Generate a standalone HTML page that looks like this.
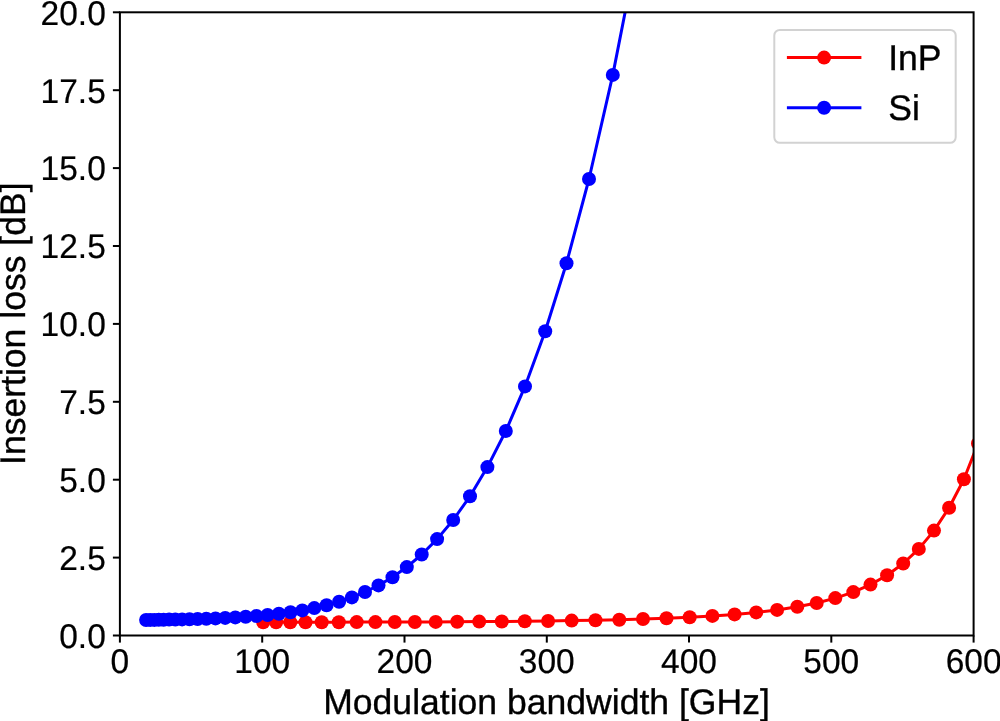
<!DOCTYPE html>
<html><head><meta charset="utf-8"><title>Insertion loss vs modulation bandwidth</title>
<style>html,body{margin:0;padding:0;background:#fff}svg{display:block}text{text-rendering:geometricPrecision;font-family:"Liberation Sans",Arial,Helvetica,sans-serif;fill:#000;stroke:#000;stroke-width:0.35px}.tk text{stroke-width:0.2px}</style>
</head><body>
<svg width="1000" height="721" viewBox="0 0 1000 721">
<rect width="1000" height="721" fill="#fff"/>
<defs><clipPath id="ax"><rect x="119.9" y="12.3" width="853.7" height="623.2"/></clipPath></defs>
<g clip-path="url(#ax)">
<polyline points="263.2,622.3 276.1,622.3 290.3,622.2 305.5,622.2 321.7,622.2 338.8,622.2 356.7,622.1 375.4,622.1 394.8,622.0 414.9,622.0 435.7,621.9 457.2,621.8 479.2,621.6 501.8,621.5 524.8,621.2 548.1,621.0 571.7,620.6 595.5,620.2 619.3,619.7 643.0,619.0 666.5,618.2 689.7,617.2 712.4,615.9 734.6,614.4 756.2,612.4 777.1,609.9 797.3,606.8 816.7,603.0 835.3,598.1 853.3,592.1 870.5,584.6 887.1,575.2 903.2,563.5 918.8,548.9 934.0,530.6 949.1,507.7 963.9,479.2 978.0,443.5 992.4,399.0" fill="none" stroke="#f00" stroke-width="3" stroke-linejoin="round"/>
<g fill="#f00"><circle cx="263.2" cy="622.3" r="7"/><circle cx="276.1" cy="622.3" r="7"/><circle cx="290.3" cy="622.2" r="7"/><circle cx="305.5" cy="622.2" r="7"/><circle cx="321.7" cy="622.2" r="7"/><circle cx="338.8" cy="622.2" r="7"/><circle cx="356.7" cy="622.1" r="7"/><circle cx="375.4" cy="622.1" r="7"/><circle cx="394.8" cy="622.0" r="7"/><circle cx="414.9" cy="622.0" r="7"/><circle cx="435.7" cy="621.9" r="7"/><circle cx="457.2" cy="621.8" r="7"/><circle cx="479.2" cy="621.6" r="7"/><circle cx="501.8" cy="621.5" r="7"/><circle cx="524.8" cy="621.2" r="7"/><circle cx="548.1" cy="621.0" r="7"/><circle cx="571.7" cy="620.6" r="7"/><circle cx="595.5" cy="620.2" r="7"/><circle cx="619.3" cy="619.7" r="7"/><circle cx="643.0" cy="619.0" r="7"/><circle cx="666.5" cy="618.2" r="7"/><circle cx="689.7" cy="617.2" r="7"/><circle cx="712.4" cy="615.9" r="7"/><circle cx="734.6" cy="614.4" r="7"/><circle cx="756.2" cy="612.4" r="7"/><circle cx="777.1" cy="609.9" r="7"/><circle cx="797.3" cy="606.8" r="7"/><circle cx="816.7" cy="603.0" r="7"/><circle cx="835.3" cy="598.1" r="7"/><circle cx="853.3" cy="592.1" r="7"/><circle cx="870.5" cy="584.6" r="7"/><circle cx="887.1" cy="575.2" r="7"/><circle cx="903.2" cy="563.5" r="7"/><circle cx="918.8" cy="548.9" r="7"/><circle cx="934.0" cy="530.6" r="7"/><circle cx="949.1" cy="507.7" r="7"/><circle cx="963.9" cy="479.2" r="7"/><circle cx="978.0" cy="443.5" r="7"/><circle cx="992.4" cy="399.0" r="7"/></g>
<polyline points="146.1,620.0 150.2,619.9 154.3,619.9 158.7,619.8 163.6,619.7 169.1,619.6 175.3,619.5 182.1,619.4 189.5,619.2 197.6,619.0 206.3,618.7 215.5,618.4 225.2,617.9 235.3,617.4 245.7,616.8 256.5,616.0 267.6,615.0 278.9,613.8 290.5,612.3 302.3,610.4 314.3,608.1 326.6,605.2 339.1,601.7 351.9,597.4 365.0,592.0 378.5,585.4 392.5,577.2 406.8,567.1 421.7,554.5 437.1,539.1 453.2,520.0 470.0,496.3 487.4,467.1 505.8,431.0 525.0,386.4 545.2,331.3 566.5,263.2 589.0,179.0 612.8,74.9 638.1,-53.7" fill="none" stroke="#00f" stroke-width="3" stroke-linejoin="round"/>
<g fill="#00f"><circle cx="146.1" cy="620.0" r="7"/><circle cx="150.2" cy="619.9" r="7"/><circle cx="154.3" cy="619.9" r="7"/><circle cx="158.7" cy="619.8" r="7"/><circle cx="163.6" cy="619.7" r="7"/><circle cx="169.1" cy="619.6" r="7"/><circle cx="175.3" cy="619.5" r="7"/><circle cx="182.1" cy="619.4" r="7"/><circle cx="189.5" cy="619.2" r="7"/><circle cx="197.6" cy="619.0" r="7"/><circle cx="206.3" cy="618.7" r="7"/><circle cx="215.5" cy="618.4" r="7"/><circle cx="225.2" cy="617.9" r="7"/><circle cx="235.3" cy="617.4" r="7"/><circle cx="245.7" cy="616.8" r="7"/><circle cx="256.5" cy="616.0" r="7"/><circle cx="267.6" cy="615.0" r="7"/><circle cx="278.9" cy="613.8" r="7"/><circle cx="290.5" cy="612.3" r="7"/><circle cx="302.3" cy="610.4" r="7"/><circle cx="314.3" cy="608.1" r="7"/><circle cx="326.6" cy="605.2" r="7"/><circle cx="339.1" cy="601.7" r="7"/><circle cx="351.9" cy="597.4" r="7"/><circle cx="365.0" cy="592.0" r="7"/><circle cx="378.5" cy="585.4" r="7"/><circle cx="392.5" cy="577.2" r="7"/><circle cx="406.8" cy="567.1" r="7"/><circle cx="421.7" cy="554.5" r="7"/><circle cx="437.1" cy="539.1" r="7"/><circle cx="453.2" cy="520.0" r="7"/><circle cx="470.0" cy="496.3" r="7"/><circle cx="487.4" cy="467.1" r="7"/><circle cx="505.8" cy="431.0" r="7"/><circle cx="525.0" cy="386.4" r="7"/><circle cx="545.2" cy="331.3" r="7"/><circle cx="566.5" cy="263.2" r="7"/><circle cx="589.0" cy="179.0" r="7"/><circle cx="612.8" cy="74.9" r="7"/></g>
</g>

<g stroke="#000" stroke-width="2" fill="none">
<line x1="119.9" y1="635.5" x2="119.9" y2="642.6"/>
<line x1="262.2" y1="635.5" x2="262.2" y2="642.6"/>
<line x1="404.5" y1="635.5" x2="404.5" y2="642.6"/>
<line x1="546.8" y1="635.5" x2="546.8" y2="642.6"/>
<line x1="689.0" y1="635.5" x2="689.0" y2="642.6"/>
<line x1="831.3" y1="635.5" x2="831.3" y2="642.6"/>
<line x1="973.6" y1="635.5" x2="973.6" y2="642.6"/>
<line x1="119.9" y1="635.5" x2="112.9" y2="635.5"/>
<line x1="119.9" y1="557.6" x2="112.9" y2="557.6"/>
<line x1="119.9" y1="479.7" x2="112.9" y2="479.7"/>
<line x1="119.9" y1="401.8" x2="112.9" y2="401.8"/>
<line x1="119.9" y1="323.9" x2="112.9" y2="323.9"/>
<line x1="119.9" y1="246.0" x2="112.9" y2="246.0"/>
<line x1="119.9" y1="168.1" x2="112.9" y2="168.1"/>
<line x1="119.9" y1="90.2" x2="112.9" y2="90.2"/>
<line x1="119.9" y1="12.3" x2="112.9" y2="12.3"/>
<rect x="119.9" y="12.3" width="853.7" height="623.2"/>
</g>
<g font-size="33.5" text-anchor="middle" class="tk">
<text transform="translate(119.9 673.4) scale(1 1.025)">0</text>
<text transform="translate(262.2 673.4) scale(1 1.025)">100</text>
<text transform="translate(404.5 673.4) scale(1 1.025)">200</text>
<text transform="translate(546.8 673.4) scale(1 1.025)">300</text>
<text transform="translate(689.0 673.4) scale(1 1.025)">400</text>
<text transform="translate(831.3 673.4) scale(1 1.025)">500</text>
<text transform="translate(973.6 673.4) scale(1 1.025)">600</text>
</g>
<g font-size="33.5" text-anchor="end" class="tk">
<text transform="translate(105.8 647.8) scale(1 1.025)">0.0</text>
<text transform="translate(105.8 569.9) scale(1 1.025)">2.5</text>
<text transform="translate(105.8 492.0) scale(1 1.025)">5.0</text>
<text transform="translate(105.8 414.1) scale(1 1.025)">7.5</text>
<text transform="translate(105.8 336.2) scale(1 1.025)">10.0</text>
<text transform="translate(105.8 258.3) scale(1 1.025)">12.5</text>
<text transform="translate(105.8 180.4) scale(1 1.025)">15.0</text>
<text transform="translate(105.8 102.5) scale(1 1.025)">17.5</text>
<text transform="translate(105.8 24.6) scale(1 1.025)">20.0</text>
</g>
<text font-size="35.55" text-anchor="middle" x="546.5" y="713.8">Modulation bandwidth [GHz]</text>
<text font-size="35.55" text-anchor="middle" transform="translate(25.3 323.7) rotate(-90)">Insertion loss [dB]</text>
<rect x="774.3" y="29.9" width="181.4" height="112.9" rx="5.5" ry="5.5" fill="#fff" fill-opacity="0.8" stroke="#d2d2d2" stroke-width="2"/>
<line x1="786.9" y1="57.6" x2="861.4" y2="57.6" stroke="#f00" stroke-width="3"/><circle cx="824.1" cy="57.6" r="7" fill="#f00"/>
<line x1="786.9" y1="107.8" x2="861.4" y2="107.8" stroke="#00f" stroke-width="3"/><circle cx="824.1" cy="107.8" r="7" fill="#00f"/>
<text font-size="35.55" x="888.2" y="70.1">InP</text>
<text font-size="35.55" x="888.2" y="120">Si</text>
</svg>
</body></html>
